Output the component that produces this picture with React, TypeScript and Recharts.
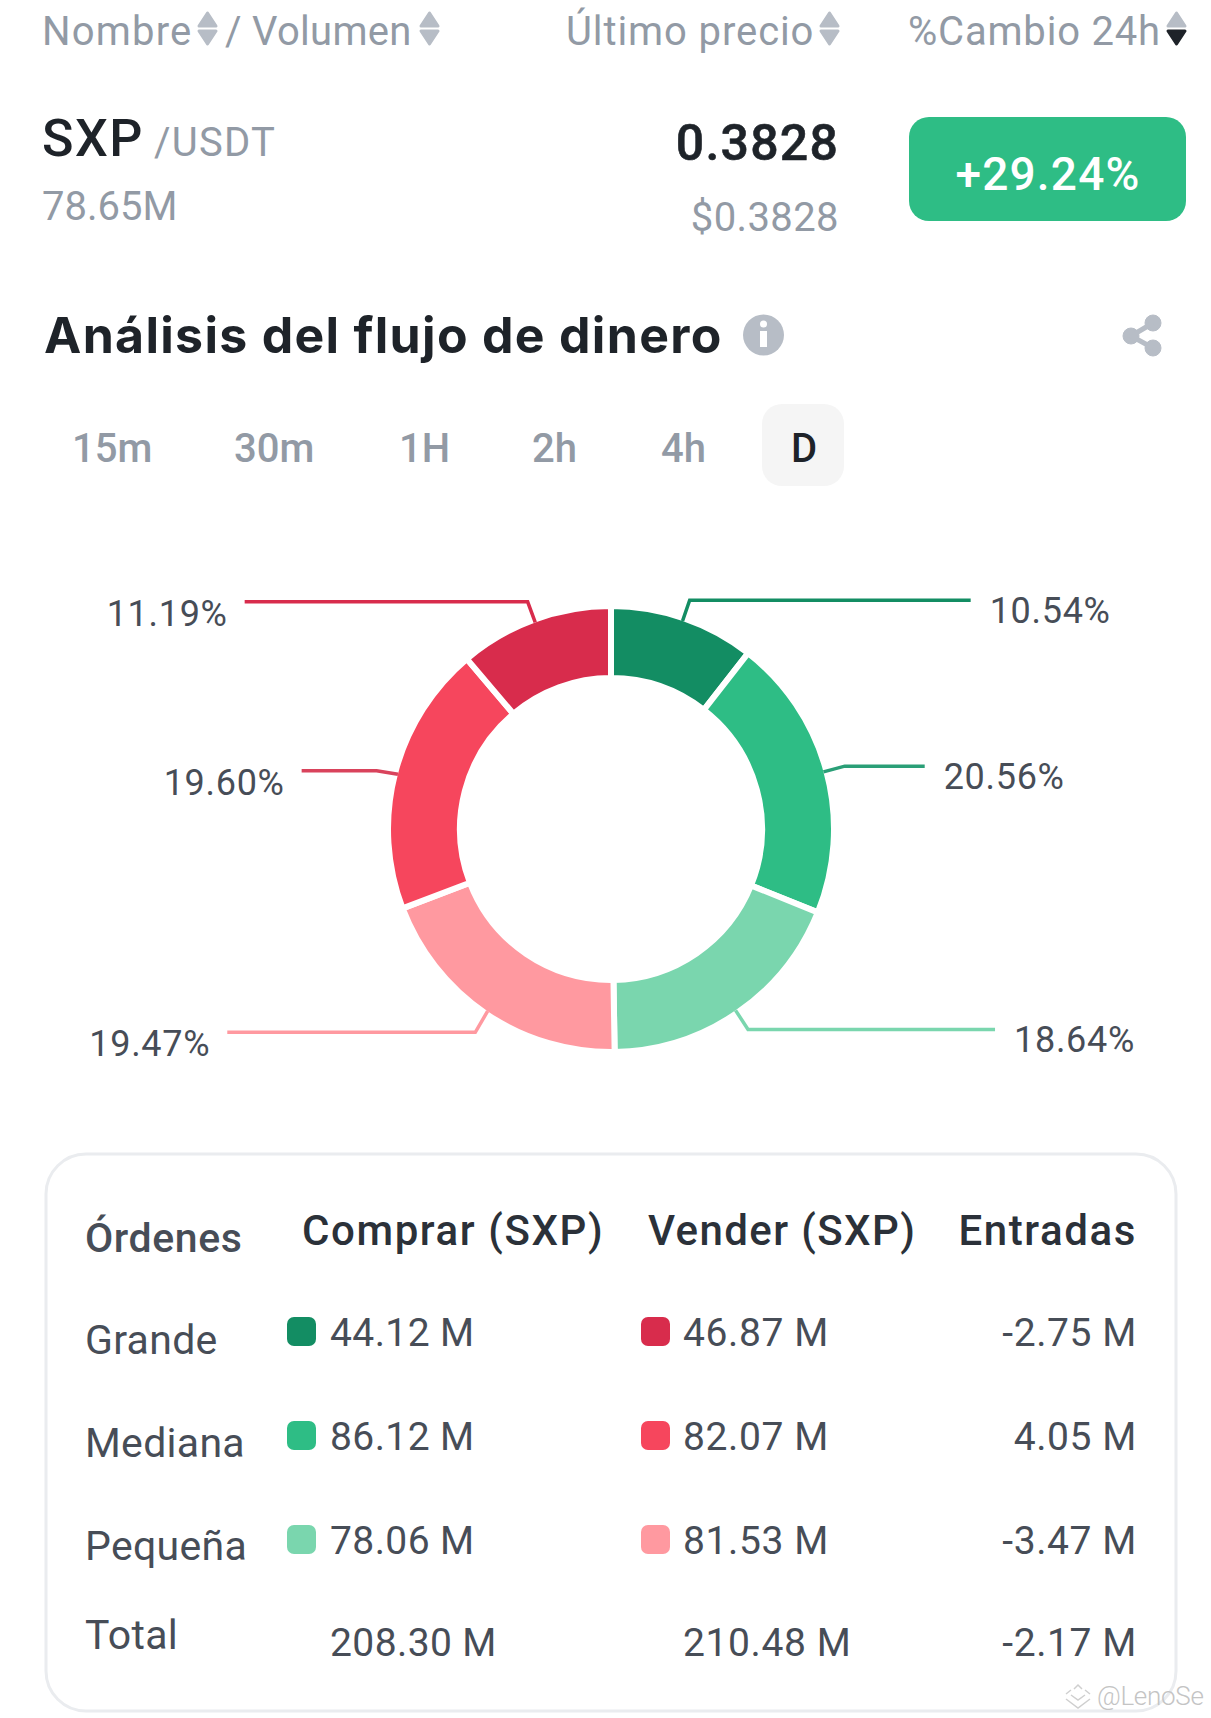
import { PieChart, Pie, Cell } from 'recharts';

const sliceNames = ['Grande compra', 'Mediana compra', 'Pequeña compra', 'Pequeña venta', 'Mediana venta', 'Grande venta'];
const sliceShares = [10.54, 20.56, 18.64, 19.47, 19.6, 11.19];
const sliceColors = ['#138D63', '#2EBD85', '#7AD6AE', '#FF99A0', '#F6465D', '#D82C4C'];
const leaderColors = ['#138D63', '#2A9F77', '#7AD6AE', '#FF99A0', '#D9435C', '#D82C4C'];
// horizontal run of each leader line after the elbow, and how far it drops below the angle's elbow
const leaderRuns = [281, 80, 247, 248, 75, 283];
const leaderDrops = [0, 0, 1, 3, 2, 0];

const intervals = ['15m', '30m', '1H', '2h', '4h', 'D'];
const intervalX = [72, 234, 399, 532, 661, 791];

const rowNames = ['Grande', 'Mediana', 'Pequeña', 'Total'];
const buyValues = ['44.12 M', '86.12 M', '78.06 M', '208.30 M'];
const sellValues = ['46.87 M', '82.07 M', '81.53 M', '210.48 M'];
const inflowValues = ['-2.75 M', '4.05 M', '-3.47 M', '-2.17 M'];
const buyColors = ['#138D63', '#2EBD85', '#7AD6AE'];
const sellColors = ['#D82C4C', '#F6465D', '#FF99A0'];

const rowBaseY = [1354, 1457, 1560, 1649];
const valueBaseY = [1346, 1450, 1554, 1656];

const FONT = 'Roboto, sans-serif';
const DARK = '#1E2329';
const GREY = '#929AA5';
const ICON = '#B7BDC6';

const pieData = sliceNames.map((name, i) => ({ name, value: sliceShares[i] }));

function SliceLabel(props: any) {
  const { cx, cy, midAngle, outerRadius, index, value } = props;
  const rad = (midAngle * Math.PI) / 180;
  const dx = Math.cos(rad);
  const dy = -Math.sin(rad);
  const side = dx >= 0 ? 1 : -1;
  const x0 = cx + (outerRadius - 3) * dx;
  const y0 = cy + (outerRadius - 3) * dy;
  const x1 = cx + (outerRadius + 19) * dx;
  const y1 = cy + (outerRadius + 19) * dy + leaderDrops[index];
  const x2 = x1 + side * leaderRuns[index];
  return (
    <g>
      <polyline
        points={`${x0},${y0} ${x1},${y1} ${x2},${y1}`}
        fill="none"
        stroke={leaderColors[index]}
        strokeWidth={3.5}
      />
      <text
        x={x2 + side * (side > 0 ? 19 : 17)}
        y={y1 + (side > 0 ? 23 : 24)}
        textAnchor={side > 0 ? 'start' : 'end'}
        fontFamily={FONT}
        fontSize={36}
        letterSpacing={0.7}
        fill="#474D57"
      >
        {value.toFixed(2)}%
      </text>
    </g>
  );
}

function Sorter({ x, activeDown }: { x: number; activeDown?: boolean }) {
  return (
    <g>
      <path d={`M${x + 9.5} 13 L${x + 18} 26 L${x + 1} 26 Z`} fill={ICON} stroke={ICON} strokeWidth={3} strokeLinejoin="round" />
      <path
        d={`M${x + 1} 31 L${x + 18} 31 L${x + 9.5} 44 Z`}
        fill={activeDown ? DARK : ICON}
        stroke={activeDown ? DARK : ICON}
        strokeWidth={3}
        strokeLinejoin="round"
      />
    </g>
  );
}

function Page() {
  return (
    <svg width={1211} height={1718} style={{ position: 'absolute', left: 0, top: 0 }} fontFamily={FONT}>
      {/* list header */}
      <text x={42} y={45} fontSize={40} letterSpacing={1.2} fill={GREY}>Nombre</text>
      <Sorter x={198} />
      <text x={225} y={45} fontSize={40} letterSpacing={0.3} fill={GREY}>/ Volumen</text>
      <Sorter x={420} />
      <text x={566} y={45} fontSize={40} letterSpacing={0.9} fill={GREY}>Último precio</text>
      <Sorter x={820} />
      <text x={908} y={45} fontSize={40} letterSpacing={0.8} fill={GREY}>%Cambio 24h</text>
      <Sorter x={1167} activeDown />

      {/* ticker row */}
      <text x={42} y={156} fontSize={52} letterSpacing={1.5} fontWeight={500} fill={DARK}>SXP</text>
      <text x={154} y={156} fontSize={40} letterSpacing={1.3} fill={GREY}>/USDT</text>
      <text x={42} y={220} fontSize={40} fill={GREY}>78.65M</text>
      <text x={839} y={160} fontSize={50} letterSpacing={1.2} fontWeight={500} stroke={DARK} strokeWidth={0.6} fill={DARK} textAnchor="end">0.3828</text>
      <text x={839} y={231} fontSize={40} letterSpacing={0.4} fill={GREY} textAnchor="end">$0.3828</text>
      <rect x={909} y={117} width={277} height={104} rx={20} fill="#2EBD85" />
      <text x={1048} y={190} fontSize={46} letterSpacing={1.2} fontWeight={500} fill="#FFFFFF" textAnchor="middle">+29.24%</text>

      {/* section title */}
      <text x={44} y={353} fontSize={50} letterSpacing={1.3} fontFamily="Inter, sans-serif" fontWeight={700} fill={DARK}>Análisis del flujo de dinero</text>
      <circle cx={763.5} cy={335} r={20.5} fill={ICON} />
      <circle cx={763.5} cy={324} r={3.5} fill="#FFFFFF" />
      <rect x={760} y={331} width={7} height={16} fill="#FFFFFF" />
      <g fill={ICON} stroke={ICON}>
        <circle cx={1153} cy={323} r={8} />
        <circle cx={1131} cy={336} r={8} />
        <circle cx={1153} cy={348} r={8} />
        <path d="M1153 323 L1131 336 L1153 348" fill="none" strokeWidth={5} />
      </g>

      {/* interval tabs */}
      <rect x={762} y={404} width={82} height={82} rx={20} fill="#F5F5F5" />
      {intervals.map((label, i) => (
        <text key={label} x={intervalX[i]} y={462} fontSize={40} fontWeight={500} fill={label === 'D' ? DARK : GREY}>
          {label}
        </text>
      ))}

      {/* order table */}
      <rect x={46} y={1154} width={1130} height={557} rx={40} fill="none" stroke="#EAECEF" strokeWidth={3} />
      <text x={85} y={1252} fontSize={41} letterSpacing={0.6} fontWeight={500} fill="#474D57">Órdenes</text>
      <text x={302} y={1245} fontSize={42} letterSpacing={1.6} fontWeight={500} fill="#2B3139">Comprar (SXP)</text>
      <text x={648} y={1245} fontSize={42} letterSpacing={1.4} fontWeight={500} fill="#2B3139">Vender (SXP)</text>
      <text x={1137} y={1245} fontSize={42} letterSpacing={1.6} fontWeight={500} fill="#2B3139" textAnchor="end">Entradas</text>

      {rowNames.map((name, i) => (
        <g key={name}>
          <text x={85} y={rowBaseY[i]} fontSize={41} letterSpacing={0.3} fill="#474D57">{name}</text>
          {buyColors[i] && <rect x={287} y={valueBaseY[i] - 29} width={29} height={29} rx={7} fill={buyColors[i]} />}
          {sellColors[i] && <rect x={641} y={valueBaseY[i] - 29} width={29} height={29} rx={7} fill={sellColors[i]} />}
          <text x={330} y={valueBaseY[i]} fontSize={39} letterSpacing={0.4} fill="#474D57">{buyValues[i]}</text>
          <text x={683} y={valueBaseY[i]} fontSize={39} letterSpacing={0.6} fill="#474D57">{sellValues[i]}</text>
          <text x={1137} y={valueBaseY[i]} fontSize={39} letterSpacing={0.6} fill="#474D57" textAnchor="end">{inflowValues[i]}</text>
        </g>
      ))}

      {/* watermark */}
      <path
        d="M1066 1694 L1071 1690 M1074 1689 L1078 1685 L1082 1689 M1085 1690 L1090 1694 M1071 1695 L1078 1700 L1085 1695 M1066 1699 L1078 1708 L1090 1699"
        fill="none"
        stroke="#CFCFCF"
        strokeWidth={1.5}
      />
      <text x={1097} y={1705} fontSize={26} letterSpacing={-0.3} fontWeight={300} fill="#C4C4C4">@LenoSe</text>
    </svg>
  );
}

export default function App() {
  return (
    <div style={{ position: 'absolute', left: 0, top: 0, width: 1211, height: 1718, background: '#FFFFFF', overflow: 'hidden' }}>
      <Page />
      <div style={{ position: 'absolute', left: 0, top: 540 }}>
        <PieChart width={1211} height={580}>
          <Pie
            data={pieData}
            dataKey="value"
            nameKey="name"
            cx={606}
            cy={284}
            innerRadius={151}
            outerRadius={223}
            startAngle={90}
            endAngle={-270}
            stroke="#FFFFFF"
            strokeWidth={6}
            label={SliceLabel}
            labelLine={false}
            isAnimationActive={false}
          >
            {sliceColors.map((color) => (
              <Cell key={color} fill={color} />
            ))}
          </Pie>
        </PieChart>
      </div>
    </div>
  );
}
